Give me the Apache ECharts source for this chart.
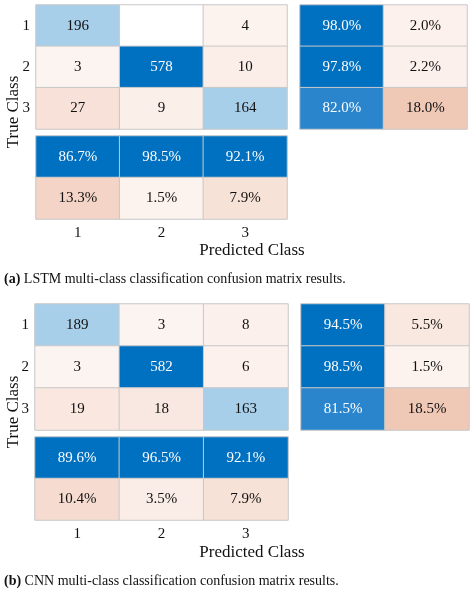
<!DOCTYPE html>
<html><head><meta charset="utf-8">
<script src="https://cdn.jsdelivr.net/npm/echarts@6/dist/echarts.min.js"></script>
<style>html,body{margin:0;padding:0;background:#fff}#c{width:474px;height:593px}</style>
</head><body><div id="c"></div>
<script>
const classes = ['1','2','3'];
const lstmMatrix = [[196,0,4],[3,578,10],[27,9,164]];
const lstmRowPct = [[98.0,2.0],[97.8,2.2],[82.0,18.0]];
const lstmColPct = [[86.7,98.5,92.1],[13.3,1.5,7.9]];
const cnnMatrix = [[189,3,8],[3,582,6],[19,18,163]];
const cnnRowPct = [[94.5,5.5],[98.5,1.5],[81.5,18.5]];
const cnnColPct = [[89.6,96.5,92.1],[10.4,3.5,7.9]];
const captions = [['(a)',' LSTM multi-class classification confusion matrix results.'],['(b)',' CNN multi-class classification confusion matrix results.']];

const FONT = '"Liberation Serif", "DejaVu Serif", serif';
function mix(a,b,t){return 'rgb('+a.map((v,i)=>Math.round(v+(b[i]-v)*t)).join(',')+')';}
const BLUE=[0,112,192], LB=[255,255,255], OR_LO=[253,246,243], OR_HI=[240,200,182];
function blue(t){return mix(LB,BLUE,t);}
function orange(t){return mix(OR_LO,OR_HI,Math.min(1,t));}

const layouts = [
 {main:{left:36,top:5,width:251,height:124}, right:{left:300,top:5,width:167,height:124}, bot:{left:36,top:136,width:251,height:83}, tick:232, name:251, cap:279},
 {main:{left:35,top:304,width:253,height:126}, right:{left:301,top:304,width:168,height:126}, bot:{left:35,top:437,width:253,height:83}, tick:533, name:553, cap:581}
];
const panels = [[lstmMatrix,lstmRowPct,lstmColPct],[cnnMatrix,cnnRowPct,cnnColPct]];

const grid=[],xAxis=[],yAxis=[],series=[],graphic=[];
const lab = (fmt)=>({show:true,fontFamily:FONT,fontSize:15,formatter:fmt});
panels.forEach((p,pi)=>{
  const L=layouts[pi]; const [M,R,C]=p;
  const gi=grid.length;
  grid.push(L.main,L.right,L.bot);
  const maxv=Math.max(...M.flat());
  // main
  xAxis.push({gridIndex:gi,type:'category',data:classes,axisLine:{show:false},axisTick:{show:false},axisLabel:{show:false},splitArea:{show:false}});
  yAxis.push({gridIndex:gi,type:'category',data:classes,inverse:true,axisLine:{show:false},axisTick:{show:false},axisLabel:{fontFamily:FONT,fontSize:15,color:'#111',margin:6}});
  const md=[];
  M.forEach((row,r)=>row.forEach((v,c)=>{
    let col,tc='#111';
    if(v===0) col='#fff';
    else if(r===c){const t=v/maxv; col= t>0.6?'rgb(0,112,192)':'rgb(168,207,234)'; if(t>0.6) tc='#fff';}
    else col=orange(v/60);
    md.push({value:[c,r,v],itemStyle:{color:col},label:{color:tc}});
  }));
  series.push({type:'heatmap',xAxisIndex:gi,yAxisIndex:gi,data:md,itemStyle:{borderColor:'#c8c8c8',borderWidth:1},label:lab(d=>d.value[2]===0?'':String(d.value[2]))});
  // right
  xAxis.push({gridIndex:gi+1,type:'category',data:['a','b'],show:false});
  yAxis.push({gridIndex:gi+1,type:'category',data:classes,inverse:true,show:false});
  const rd=[];
  R.forEach((row,r)=>row.forEach((v,c)=>{
    const col = c===0 ? (v>90?'rgb(0,112,192)':'rgb(42,133,204)') : orange(v/18);
    rd.push({value:[c,r,v],itemStyle:{color:col},label:{color:c===0?'#fff':'#111'}});
  }));
  series.push({type:'heatmap',xAxisIndex:gi+1,yAxisIndex:gi+1,data:rd,itemStyle:{borderColor:'#c8c8c8',borderWidth:1},label:lab(d=>d.value[2].toFixed(1)+'%')});
  // bottom
  xAxis.push({gridIndex:gi+2,type:'category',data:classes,axisLine:{show:false},axisTick:{show:false},axisLabel:{fontFamily:FONT,fontSize:15,color:'#111',margin:7}});
  yAxis.push({gridIndex:gi+2,type:'category',data:['a','b'],inverse:true,show:false});
  const bd=[];
  C.forEach((row,r)=>row.forEach((v,c)=>{
    const col = r===0 ? 'rgb(0,112,192)' : orange(v/18);
    bd.push({value:[c,r,v],itemStyle:{color:col},label:{color:r===0?'#fff':'#111'}});
  }));
  series.push({type:'heatmap',xAxisIndex:gi+2,yAxisIndex:gi+2,data:bd,itemStyle:{borderColor:'#c8c8c8',borderWidth:1},label:lab(d=>d.value[2].toFixed(1)+'%')});
  // texts
  const midY=(L.main.top+L.bot.top+L.bot.height)/2;
  graphic.push({type:'text',x:14,y:midY,rotation:Math.PI/2,style:{text:'True Class',font:'17px '+FONT,fill:'#111',align:'center',verticalAlign:'middle'}});
  graphic.push({type:'text',x:252,y:L.name,style:{text:'Predicted Class',font:'17px '+FONT,fill:'#111',align:'center',verticalAlign:'middle'}});
  graphic.push({type:'text',x:4,y:L.cap,style:{rich:{b:{fontFamily:FONT,fontSize:14,fontWeight:'bold',fill:'#111'},n:{fontFamily:FONT,fontSize:14,fill:'#111'}},text:'{b|'+captions[pi][0]+'}{n|'+captions[pi][1]+'}',verticalAlign:'middle'}});
});

const chart=echarts.init(document.getElementById('c'));
chart.setOption({animation:false,grid,xAxis,yAxis,series,graphic});
</script></body></html>
